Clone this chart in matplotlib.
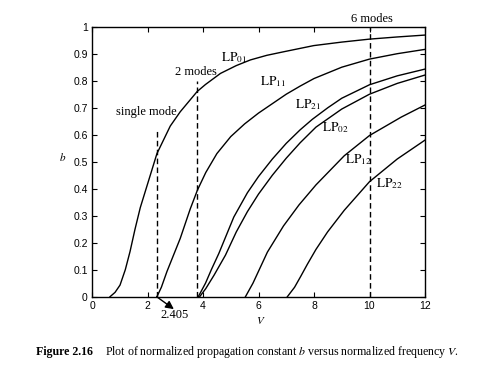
import matplotlib
matplotlib.use("Agg")
import matplotlib.pyplot as plt

plt.rcParams['mathtext.fontset'] = 'stix'

# ---- data ----
V_LP01 = [0.65, 0.83, 1.01, 1.2, 1.37, 1.55, 1.74, 2.1, 2.34, 2.82, 3.18, 3.79, 4.09, 4.63, 5.2, 5.71, 6.3, 6.9, 7.99, 9.0, 10.0, 11.0, 12.0]
b_LP01 = [0.0, 0.016, 0.043, 0.1, 0.167, 0.25, 0.33, 0.45, 0.53, 0.632, 0.685, 0.76, 0.786, 0.827, 0.856, 0.877, 0.894, 0.907, 0.93, 0.943, 0.954, 0.962, 0.969]

V_LP11 = [2.34, 2.5, 2.7, 3.18, 3.54, 3.8, 4.1, 4.5, 5.0, 5.5, 6.0, 6.5, 7.0, 7.5, 8.0, 9.0, 10.0, 11.0, 12.0]
b_LP11 = [0.0, 0.035, 0.093, 0.216, 0.325, 0.395, 0.46, 0.53, 0.593, 0.64, 0.68, 0.715, 0.75, 0.78, 0.808, 0.85, 0.88, 0.90, 0.916]

V_LP21 = [3.83, 4.09, 4.3, 4.57, 4.85, 5.11, 5.6, 6.0, 6.5, 7.0, 7.5, 7.94, 8.5, 9.0, 10.0, 11.0, 12.0]
b_LP21 = [0.0, 0.05, 0.1, 0.16, 0.23, 0.295, 0.385, 0.445, 0.51, 0.568, 0.618, 0.657, 0.70, 0.735, 0.785, 0.818, 0.843]

V_LP02 = [3.88, 4.1, 4.4, 4.81, 5.2, 5.6, 6.0, 6.5, 7.0, 7.5, 8.07, 9.0, 10.0, 11.0, 12.0]
b_LP02 = [0.0, 0.03, 0.08, 0.154, 0.24, 0.315, 0.38, 0.45, 0.513, 0.57, 0.628, 0.695, 0.75, 0.79, 0.821]

V_LP12 = [5.53, 5.8, 6.32, 6.9, 7.46, 8.07, 9.09, 10.0, 11.14, 12.0]
b_LP12 = [0.0, 0.05, 0.165, 0.262, 0.34, 0.414, 0.522, 0.597, 0.665, 0.71]

V_LP22 = [7.04, 7.3, 7.52, 7.76, 8.07, 8.49, 9.09, 10.0, 11.0, 12.0]
b_LP22 = [0.0, 0.035, 0.075, 0.12, 0.175, 0.24, 0.32, 0.426, 0.51, 0.58]

curves = [(V_LP01, b_LP01), (V_LP11, b_LP11), (V_LP21, b_LP21),
          (V_LP02, b_LP02), (V_LP12, b_LP12), (V_LP22, b_LP22)]

mode_names = ['01', '11', '21', '02', '12', '22']
mode_label_V = [4.65, 6.05, 7.3, 8.28, 9.11, 10.23]
mode_label_b = [0.885, 0.797, 0.71, 0.628, 0.506, 0.42]

cut_V = [2.33, 3.8, 10.0]
cut_top = [0.62, 0.80, 1.0]
cut_text = ['single mode', '2 modes', '6 modes']
cut_text_V = [1.95, 3.74, 10.1]
cut_text_b = [0.685, 0.833, 1.028]

x_ticks = [0, 2, 4, 6, 8, 10, 12]
y_ticks = [0, 0.1, 0.2, 0.3, 0.4, 0.5, 0.6, 0.7, 0.8, 0.9, 1.0]
y_tick_labels = ['0', '0.1', '0.2', '0.3', '0.4', '0.5', '0.6', '0.7', '0.8', '0.9', '1']

serif = 'Liberation Serif'
sans = 'Liberation Sans'

fig = plt.figure(figsize=(4.92, 3.79), dpi=100)
ax = fig.add_axes([92/492, 1-296.7/379, 333/492, 270/379])

for V, b in curves:
    ax.plot(V, b, color='black', lw=1.0, solid_joinstyle='round')

for V, top in zip(cut_V, cut_top):
    ax.plot([V, V], [0, top], color='black', lw=1.0, dashes=(4, 2.4))

for name, xv, yv in zip(mode_names, mode_label_V, mode_label_b):
    ax.text(xv, yv, r'$\mathrm{LP}_{%s}$' % name, fontsize=9.5,
            ha='left', va='center')

for t, xv, yv in zip(cut_text, cut_text_V, cut_text_b):
    ax.text(xv, yv, t, fontsize=9, family=serif, ha='center', va='center',
            clip_on=False)

ax.annotate('', xy=(2.95, -0.046), xytext=(cut_V[0], 0),
            arrowprops=dict(arrowstyle='-|>', color='black', lw=1.0,
                            mutation_scale=12, shrinkA=0, shrinkB=0),
            annotation_clip=False)
ax.text(2.99, -0.068, '2.405', fontsize=9, family=serif, ha='center',
        va='center')

ax.set_xlim(0, 12)
ax.set_ylim(0, 1)
ax.set_xticks(x_ticks)
ax.set_xticklabels([str(v) for v in x_ticks], family=sans, fontsize=7.5)
ax.set_yticks(y_ticks)
ax.set_yticklabels(y_tick_labels, family=sans, fontsize=7.5)
ax.tick_params(direction='in', top=True, right=True, length=3.5, width=0.8,
               pad=3)
for s in ax.spines.values():
    s.set_linewidth(1.0)

fig.text(261/492, 1-321/379, r'$V$', fontsize=8, ha='center', va='center')
fig.text(62.5/492, 1-157/379, r'$b$', fontsize=8, ha='center', va='center')

fig.text(36/492, 1-352.5/379, 'Figure 2.16', fontsize=8.6, family=serif,
         weight='bold', ha='left', va='center')
fig.text(105/492, 1-352.5/379,
         r'Plot of normalized propagation constant $b$ versus normalized frequency $V$.',
         fontsize=8.6, family=serif, ha='left', va='center')

fig.savefig('out.png', dpi=100, facecolor='white')
